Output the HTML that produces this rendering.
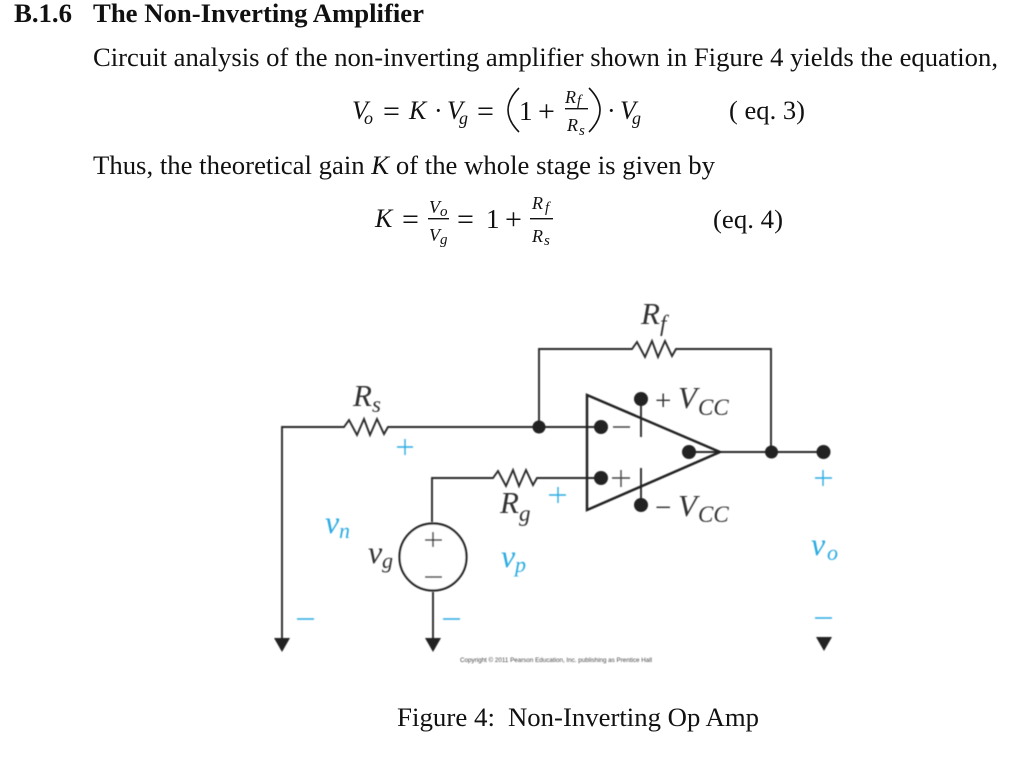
<!DOCTYPE html>
<html><head><meta charset="utf-8"><style>
html,body{margin:0;padding:0;background:#fff;width:1024px;height:760px;overflow:hidden}
svg{display:block}
text{font-family:"Liberation Serif",serif;fill:#111}
.i{font-style:italic}
.b{fill:#29abe2;font-style:italic}
.c{fill:#333;font-style:italic}
.w{fill:none;stroke:#2c2c2c;stroke-width:1.9;stroke-linejoin:miter}
.p{stroke:#29abe2;stroke-width:1.4;fill:none}
.k{fill:#222;stroke:none}
</style></head><body>
<svg width="1024" height="760" viewBox="0 0 1024 760" xmlns="http://www.w3.org/2000/svg">
<defs><filter id="s" x="0" y="0" width="100%" height="100%"><feGaussianBlur stdDeviation="0.4"/></filter></defs>
<text x="14" y="22" font-size="26" font-weight="bold" textLength="58" lengthAdjust="spacingAndGlyphs">B.1.6</text>
<text x="93" y="22" font-size="26" font-weight="bold" textLength="331" lengthAdjust="spacingAndGlyphs">The Non-Inverting Amplifier</text>
<text x="93" y="66" font-size="26" textLength="905" lengthAdjust="spacingAndGlyphs">Circuit analysis of the non-inverting amplifier shown in Figure 4 yields the equation,</text>

<text x="352" y="119" font-size="26" class="i">V</text><text x="364" y="124" font-size="18" class="i">o</text>
<text x="383" y="121" font-size="30">=</text>
<text x="409" y="119" font-size="26" class="i">K</text>
<text x="434" y="119" font-size="26">·</text>
<text x="447" y="119" font-size="26" class="i">V</text><text x="459" y="124" font-size="18" class="i">g</text>
<text x="477" y="121" font-size="30">=</text>
<path d="M519 88 Q497 110 519 132" fill="none" stroke="#111" stroke-width="1.6"/>
<text x="519" y="120" font-size="27">1</text>
<text x="538" y="121" font-size="30">+</text>
<text x="565" y="103" font-size="18" class="i">R</text><text x="577" y="105" font-size="15" class="i">f</text>
<rect x="565" y="108" width="23" height="1.400" fill="#111"/>
<text x="567" y="131" font-size="18" class="i">R</text><text x="579" y="135" font-size="15" class="i">s</text>
<path d="M589 88 Q611 110 589 132" fill="none" stroke="#111" stroke-width="1.6"/>
<text x="607" y="119" font-size="26">·</text>
<text x="620" y="119" font-size="26" class="i">V</text><text x="632" y="124" font-size="18" class="i">g</text>
<text x="729" y="119" font-size="26" textLength="76" lengthAdjust="spacingAndGlyphs">( eq. 3)</text>

<text x="93" y="174" font-size="26" textLength="622" lengthAdjust="spacingAndGlyphs">Thus, the theoretical gain <tspan font-style="italic">K</tspan> of the whole stage is given by</text>

<text x="375" y="227" font-size="26" class="i">K</text>
<text x="402" y="229" font-size="30">=</text>
<text x="429" y="213" font-size="18" class="i">V</text><text x="440" y="216" font-size="15" class="i">o</text>
<rect x="428" y="218" width="21" height="1.400" fill="#111"/>
<text x="429" y="241" font-size="18" class="i">V</text><text x="440" y="244" font-size="15" class="i">g</text>
<text x="457" y="229" font-size="30">=</text>
<text x="486" y="228" font-size="27">1</text>
<text x="505" y="229" font-size="30">+</text>
<text x="532" y="209" font-size="18" class="i">R</text><text x="545" y="212" font-size="15" class="i">f</text>
<rect x="530" y="218" width="23" height="1.400" fill="#111"/>
<text x="532" y="242" font-size="18" class="i">R</text><text x="544" y="245" font-size="15" class="i">s</text>
<text x="713" y="228" font-size="26" textLength="70" lengthAdjust="spacingAndGlyphs">(eq. 4)</text>

<g filter="url(#s)">
<!-- wires -->
<path class="w" d="M282 638V427H344l5 -7 8 15 7 -16 6 16 7 -16 7 15 4 -7H601"/>
<path class="w" d="M539 427V349H632l5 -7 8 15 7 -16 6 16 7 -16 7 15 4 -7H771V452"/>
<path class="w" d="M432 522V478H493l5 -7 8 15 7 -16 6 16 7 -16 7 15 4 -7H601"/>
<path class="w" d="M433 592V638"/>
<path class="w" d="M689 452H823"/>
<path class="w" d="M641 399V437M641 468V505"/>
<path d="M587 395V510L720 452Z" fill="none" stroke="#222" stroke-width="2.500" stroke-linejoin="miter"/>
<circle cx="433" cy="557" r="33.500" fill="#fff" stroke="#222" stroke-width="2.200"/>
<path d="M425 540H442M433 532V547M425 577H442" fill="none" stroke="#333" stroke-width="1.500"/>
<path d="M613 427H630M612 478H630M621 470V487" fill="none" stroke="#444" stroke-width="1.400"/>

<!-- dots -->
<g class="k">
<circle cx="539" cy="427" r="6.500"/><circle cx="601" cy="427" r="7"/><circle cx="601" cy="478" r="7"/>
<circle cx="689" cy="452" r="7"/><circle cx="641" cy="399" r="7"/><circle cx="641" cy="505" r="7"/>
<circle cx="771.500" cy="452" r="6.500"/><circle cx="823.500" cy="452" r="7"/>
<path d="M274 638H290L282 652Z"/><path d="M425 638H441L433 652Z"/><path d="M816 637H832L824 651Z"/>
</g>

<!-- blue polarity -->
<path class="p" d="M397 447H413M405 439V455M549 495H566M558 487V503M815 478H832M823 470V486M297 619H314M443 619H460M815 618H832"/>

<!-- labels -->
<text x="353" y="406" font-size="31" class="c">R</text><text x="372" y="412" font-size="23" class="c">s</text>
<text x="641" y="324" font-size="31" class="c">R</text><text x="660" y="331" font-size="23" class="c">f</text>
<text x="500" y="513" font-size="31" class="c">R</text><text x="519" y="521" font-size="23" class="c">g</text>
<text x="655" y="410" font-size="29" style="font-style:normal;fill:#333">+</text>
<text x="678" y="408" font-size="31" class="c">V</text><text x="698" y="415" font-size="23" class="c">CC</text>
<text x="655" y="517" font-size="29" style="font-style:normal;fill:#333">−</text>
<text x="678" y="516" font-size="31" class="c">V</text><text x="698" y="522" font-size="23" class="c">CC</text>
<text x="368" y="563" font-size="32" class="c">v</text><text x="382" y="568" font-size="22" class="c">g</text>
<text x="325" y="533" font-size="32" class="b">v</text><text x="339" y="538" font-size="22" class="b">n</text>
<text x="501" y="567" font-size="32" class="b">v</text><text x="515" y="572" font-size="22" class="b">p</text>
<text x="811" y="555" font-size="32" class="b">v</text><text x="827" y="560" font-size="22" class="b">o</text>
<text x="460" y="662" font-size="6.500" style="font-family:'Liberation Sans',sans-serif;fill:#444" textLength="192" lengthAdjust="spacingAndGlyphs">Copyright © 2011 Pearson Education, Inc. publishing as Prentice Hall</text>
</g>
<text x="397" y="726" font-size="26" textLength="98" lengthAdjust="spacingAndGlyphs">Figure 4:</text>
<text x="508" y="726" font-size="26" textLength="251" lengthAdjust="spacingAndGlyphs">Non-Inverting Op Amp</text>
</svg>
</body></html>
